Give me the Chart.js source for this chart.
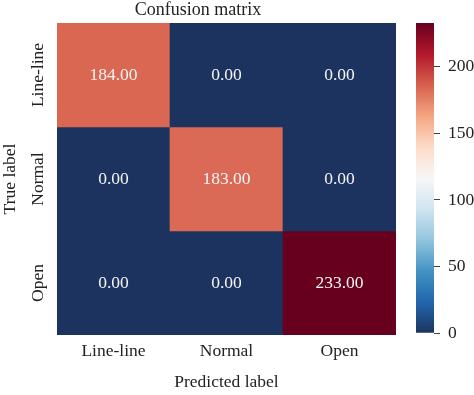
<!DOCTYPE html>
<html><head><meta charset="utf-8">
<script src="https://cdn.jsdelivr.net/npm/chart.js@4"></script>
<style>
html,body{margin:0;padding:0;background:#fff;width:474px;height:395px;overflow:hidden}
#c1{position:absolute;left:0;top:0}
#c2{position:absolute;left:400px;top:0}
</style></head><body>
<canvas id="c1" width="400" height="395"></canvas>
<canvas id="c2" width="74" height="395"></canvas>
<script>
// ---- data ----
const predictedLabels = ['Line-line', 'Normal', 'Open'];
const trueLabels = ['Line-line', 'Normal', 'Open'];
const rowLineLine = [184, 0, 0];
const rowNormal = [0, 183, 0];
const rowOpen = [0, 0, 233];
const matrixRows = [rowLineLine, rowNormal, rowOpen];
const colorbarTicks = [0, 50, 100, 150, 200];
const vmin = 0, vmax = 233;

// ---- colormap (RdBu_r style) ----
const cmapStops = ['#1c335f','#2166ac','#4393c3','#92c5de','#d1e5f0','#f7f7f7','#fddbc7','#f4a582','#d6604d','#b2182b','#67001f'];
function hex2rgb(h){return [parseInt(h.slice(1,3),16),parseInt(h.slice(3,5),16),parseInt(h.slice(5,7),16)];}
function cmap(t){
  t=Math.max(0,Math.min(1,t));
  const n=cmapStops.length-1, p=t*n, i=Math.min(Math.floor(p),n-1), f=p-i;
  const a=hex2rgb(cmapStops[i]), b=hex2rgb(cmapStops[i+1]);
  return 'rgb('+a.map((v,k)=>Math.round(v+(b[k]-v)*f)).join(',')+')';
}

const FONT = "'Liberation Serif','Times New Roman',serif";
const TXT = '#222';

const cellText = {
  id:'cellText',
  afterDatasetsDraw(chart){
    const c = chart.ctx;
    c.save();
    c.font = '17.5px ' + FONT;
    c.textAlign = 'center';
    c.textBaseline = 'middle';
    c.fillStyle = '#f4f4f4';
    chart.data.datasets.forEach((ds,i)=>{
      const meta = chart.getDatasetMeta(i);
      meta.data.forEach((el,j)=>{
        const p = el.getProps(['x','y','base'], true);
        c.fillText(ds.values[j].toFixed(2), p.x, (p.y+p.base)/2);
      });
    });
    const ys = chart.scales.y;
    c.fillStyle = TXT;
    trueLabels.forEach((t,i)=>{
      const yy = ys.getPixelForValue(i+0.5);
      c.save();
      c.translate(chart.chartArea.left - 18.5, yy);
      c.rotate(-Math.PI/2);
      c.fillText(t, 0, 0);
      c.restore();
    });
    c.restore();
  }
};

new Chart(document.getElementById('c1'), {
  type:'bar',
  data:{
    labels: predictedLabels,
    datasets: trueLabels.map((t,i)=>({
      label:t,
      data: predictedLabels.map(()=>1),
      values: matrixRows[i],
      backgroundColor: matrixRows[i].map(v=>cmap((v-vmin)/(vmax-vmin))),
      borderWidth:0,
      barPercentage:1,
      categoryPercentage:1
    }))
  },
  options:{
    responsive:false,
    animation:false,
    layout:{padding:{left:0,right:4,top:0,bottom:0}},
    plugins:{
      legend:{display:false},
      tooltip:{enabled:false},
      title:{display:true,text:'Confusion matrix',color:TXT,
        font:{family:FONT,size:18,weight:'normal',lineHeight:1.15},
        padding:{top:0,bottom:2.3}}
    },
    scales:{
      x:{
        stacked:true,
        grid:{display:false,drawTicks:false},
        border:{display:false},
        ticks:{color:TXT,font:{family:FONT,size:17.5},padding:6,maxRotation:0},
        title:{display:true,text:'Predicted label',color:TXT,
          font:{family:FONT,size:17.5,lineHeight:1.2},padding:{top:0,bottom:2}},
        afterFit(s){s.height=60;}
      },
      y:{
        type:'linear',
        stacked:true,
        min:0,max:3,reverse:true,
        grid:{display:false,drawTicks:false},
        border:{display:false},
        ticks:{display:false},
        title:{display:true,text:'True label',color:TXT,
          font:{family:FONT,size:17.5,lineHeight:1.2},padding:{top:0,bottom:0}},
        afterFit(s){s.width=57;}
      }
    }
  },
  plugins:[cellText]
});

// ---- colorbar ----
new Chart(document.getElementById('c2'), {
  type:'bar',
  data:{
    labels:['scale'],
    datasets:[{
      data:[[vmin,vmax]],
      borderWidth:0,
      barPercentage:1,
      categoryPercentage:1,
      backgroundColor(ctx){
        const ch = ctx.chart, ca = ch.chartArea;
        if(!ca) return cmap(0.5);
        const ys = ch.scales.y;
        const g = ch.ctx.createLinearGradient(0, ys.getPixelForValue(vmin), 0, ys.getPixelForValue(vmax));
        for(let k=0;k<=40;k++){ g.addColorStop(k/40, cmap(k/40)); }
        return g;
      }
    }]
  },
  options:{
    responsive:false,
    animation:false,
    layout:{padding:{left:16,right:0,top:23,bottom:62}},
    plugins:{legend:{display:false},tooltip:{enabled:false}},
    scales:{
      x:{display:false},
      y:{
        position:'right',
        min:vmin,max:vmax,
        grid:{drawOnChartArea:false,drawTicks:true,tickLength:6,color:'#444',lineWidth:1},
        border:{display:false},
        ticks:{color:TXT,font:{family:FONT,size:17.5},padding:8},
        afterBuildTicks(s){ s.ticks = colorbarTicks.map(v=>({value:v})); },
        afterFit(s){s.width=40;}
      }
    }
  }
});
</script>
</body></html>
